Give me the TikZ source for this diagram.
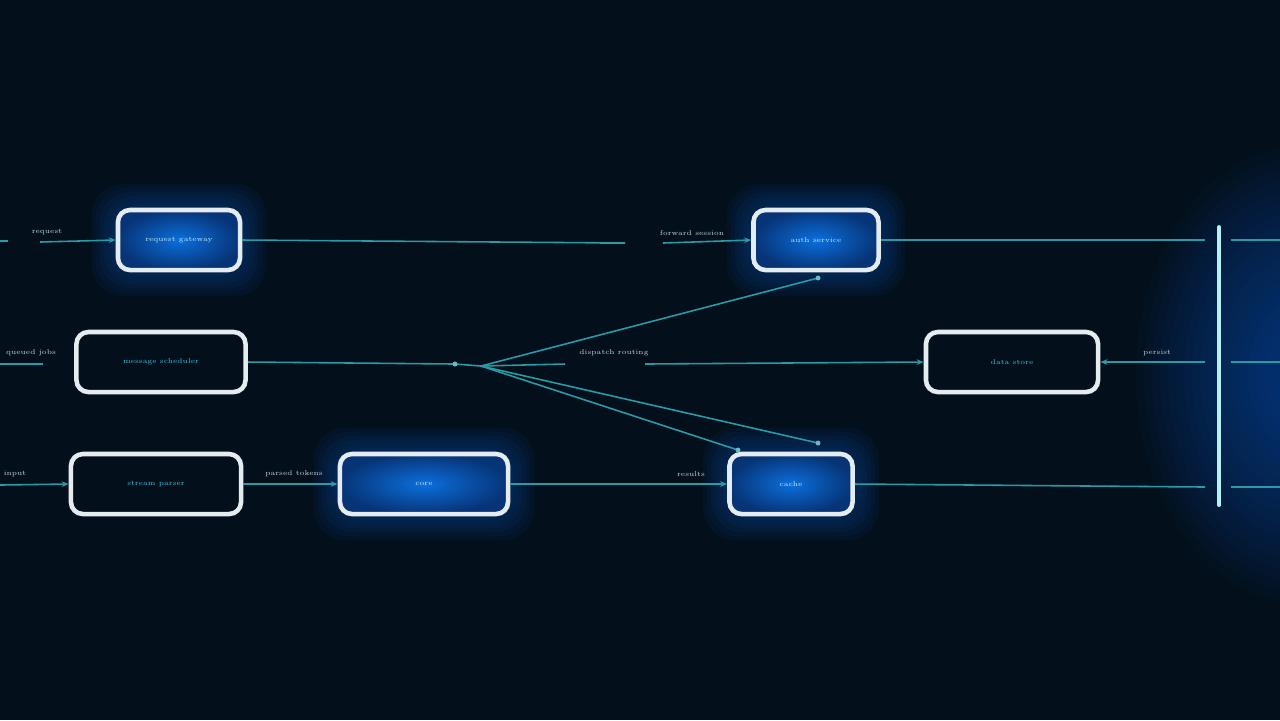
\documentclass[tikz,border=0pt]{standalone}
\usepackage{tikz}
\usetikzlibrary{calc}
\usetikzlibrary{arrows.meta}
\definecolor{bgnavy}{HTML}{03101B}
\definecolor{wire}{HTML}{2A9AA6}
\definecolor{rim}{HTML}{E4ECF0}
\definecolor{haze}{HTML}{0C5FD8}
\definecolor{labeltxt}{HTML}{B8D4DC}
\definecolor{boxtxt}{HTML}{3EC0DC}
\pgfdeclarelayer{back}
\pgfsetlayers{back,main}

\begin{document}
\begin{tikzpicture}[x=0.01cm,y=-0.01cm,
    box/.style={draw=rim,line width=1.3pt,rounded corners=3.4pt,minimum width=#1,minimum height=0.6cm,
      inner sep=0pt,fill=bgnavy,text=boxtxt,font=\fontsize{2}{2.5}\selectfont},
    hotbox/.style={box=#1,inner color=haze!90!cyan,outer color=haze!55!black,text=cyan!25!white},
    wireline/.style={wire,line width=0.45pt},
    tip/.style={wireline,-{Stealth[length=2pt,width=1.6pt]}},
    tag/.style={text=labeltxt,font=\fontsize{2}{2.5}\selectfont,inner sep=0pt},
    dot/.style={circle,fill=wire!70!white,inner sep=0.5pt}]
    \useasboundingbox (0,0) rectangle (1280,720);
    % nodes
    \node[hotbox=1.22cm] (gate) at (179,240) {request gateway};
    \node[hotbox=1.25cm] (auth) at (816,240) {auth service};
    \node[box=1.69cm] (queue) at (161,362) {message scheduler};
    \node[box=1.72cm] (store) at (1012,362) {data store};
    \node[box=1.70cm] (parse) at (156,484) {stream parser};
    \node[hotbox=1.68cm] (core) at (424,484) {core};
    \node[hotbox=1.23cm] (cache) at (791,484) {cache};
    % glow and background
    \begin{pgfonlayer}{back}
        \fill[bgnavy] (0,0) rectangle (1280,720);
        \foreach \r in {1,...,18}
            \fill[haze,opacity=0.035] (1300,375) ellipse ({20+\r*8} and {30+\r*11});
        \foreach \n in {gate,auth,core,cache}
            \foreach \g in {1,...,6}
                \fill[haze,opacity=0.06,rounded corners=9pt]
                    ($(\n.north west)+(-\g*4,-\g*4)$) rectangle ($(\n.south east)+(\g*4,\g*4)$);
    \end{pgfonlayer}
    % bar
    \draw[rim!80!cyan,line width=1.1pt,line cap=round] (1219,227) coordinate (bartop) -- (1219,505) coordinate (barbot);
    % row one
    \draw[wireline] (0,241) -- (8,241);
    \draw[tip] (40,242) -- (gate.west);
    \node[tag] (t1) at (47,232) {request};
    \draw[wireline] (gate.east) -- (625,243) coordinate (g1);
    \draw[wireline] (600,243) -- (g1);
    \node[tag] (t2) at (692,233) {forward session};
    \draw[tip] (663,243) -- (auth.west);
    \draw[wireline] (auth.east) -- (1205,240);
    \draw[wireline] (1231,240) -- (1280,240);
    % row two
    \draw[wireline] (0,364) -- (43,364);
    \node[tag] (t3) at (31,353) {queued jobs};
    \coordinate (hub) at (481,366);
    \draw[wireline] (queue.east) -- (455,364) node[dot] (d0) {} -- (hub);
    \draw[wireline] (hub) -- (818,278) node[dot] (d1) {};
    \draw[wireline] (hub) -- (738,450) node[dot] (d2) {};
    \draw[wireline] (hub) -- (818,443) node[dot] (d3) {};
    \draw[wireline] (hub) -- (565,364);
    \node[tag] (t4) at (614,353) {dispatch routing};
    \draw[tip] (645,364) -- (store.west);
    \draw[tip] (1205,362) -- (store.east);
    \node[tag] (t5) at (1157,353) {persist};
    \draw[wireline] (1231,362) -- (1280,362);
    % row three
    \draw[tip] (0,485) -- (parse.west);
    \node[tag] (t6) at (15,474) {input};
    \draw[tip] (parse.east) -- (core.west);
    \node[tag] (t7) at (294,474) {parsed tokens};
    \draw[tip] (core.east) -- (cache.west);
    \node[tag] (t8) at (691,474) {results};
    \draw[wireline] (cache.east) -- (1205,487);
    \draw[wireline] (1231,487) -- (1280,487);
\end{tikzpicture}
\end{document}
